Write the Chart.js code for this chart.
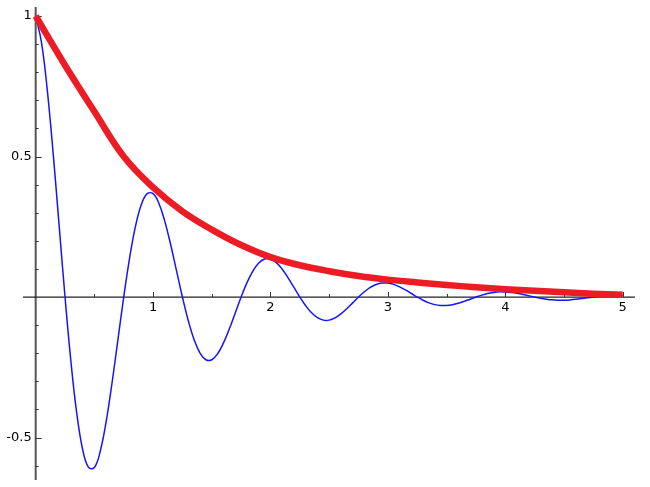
<!DOCTYPE html>
<html>
<head>
<meta charset="utf-8">
<script src="https://cdn.jsdelivr.net/npm/chart.js@4"></script>
<style>
  html, body { margin: 0; padding: 0; background: #fff; }
  #wrap { width: 650px; height: 487px; }
</style>
</head>
<body>
<div id="wrap"><canvas id="plot"></canvas></div>
<script>
(() => {
  "use strict";

  // sample positions along x for the oscillation
  const xs = [
    0, 0.05, 0.1, 0.15, 0.2, 0.25, 0.3, 0.35, 0.4, 0.45, 0.5, 0.55, 0.6, 0.65, 0.7, 0.75, 0.8, 0.85, 0.9, 0.95,
    1, 1.05, 1.1, 1.15, 1.2, 1.25, 1.3, 1.35, 1.4, 1.45, 1.5, 1.55, 1.6, 1.65, 1.7, 1.75, 1.8, 1.85, 1.9, 1.95,
    2, 2.05, 2.1, 2.15, 2.2, 2.25, 2.3, 2.35, 2.4, 2.45, 2.5, 2.55, 2.6, 2.65, 2.7, 2.75, 2.8, 2.85, 2.9, 2.95,
    3, 3.05, 3.1, 3.15, 3.2, 3.25, 3.3, 3.35, 3.4, 3.45, 3.5, 3.55, 3.6, 3.65, 3.7, 3.75, 3.8, 3.85, 3.9, 3.95,
    4, 4.05, 4.1, 4.15, 4.2, 4.25, 4.3, 4.35, 4.4, 4.45, 4.5, 4.55, 4.6, 4.65, 4.7, 4.75, 4.8, 4.85, 4.9, 4.95,
    5,
  ];

  // damped oscillation (blue)
  const wave = [
    1.0, 0.9047, 0.732, 0.5059, 0.253, 0, -0.2289, -0.4142, -0.5423, -0.6064,
    -0.6065, -0.5487, -0.444, -0.3068, -0.1535, 0, 0.1388, 0.2512, 0.3289, 0.3678,
    0.3679, 0.3328, 0.2693, 0.1861, 0.0931, 0, -0.0842, -0.1524, -0.1995, -0.2231,
    -0.2231, -0.2018, -0.1633, -0.1129, -0.0565, 0, 0.0511, 0.0924, 0.121, 0.1353,
    0.1353, 0.1224, 0.0991, 0.0685, 0.0342, 0, -0.031, -0.0561, -0.0734, -0.0821,
    -0.0821, -0.0743, -0.0601, -0.0416, -0.0208, 0, 0.0188, 0.034, 0.0445, 0.0497,
    0.0498, 0.0451, 0.0364, 0.0252, 0.0126, 0, -0.0114, -0.0206, -0.027, -0.0301,
    -0.0302, -0.0273, -0.0221, -0.0153, -0.0076, 0, 0.0069, 0.0125, 0.0163, 0.0184,
    0.0183, 0.0165, 0.0134, 0.0093, 0.0046, 0, -0.0042, -0.0076, -0.01, -0.0111,
    -0.0111, -0.0101, -0.0082, -0.0056, -0.0028, 0, 0.0025, 0.0046, 0.006, 0.0068,
    0.0067,
  ];

  // envelope (red)
  const envX = [
    0, 0.25, 0.5, 0.75, 1, 1.25, 1.5, 1.75, 2, 2.25, 2.5,
    2.75, 3, 3.25, 3.5, 3.75, 4, 4.25, 4.5, 4.75, 5,
  ];
  const envelope = [
    1.0, 0.825, 0.66, 0.5, 0.39, 0.305, 0.24, 0.185, 0.142, 0.113, 0.092,
    0.075, 0.062, 0.052, 0.043, 0.035, 0.028, 0.022, 0.017, 0.012, 0.008,
  ];

  const xMajor = [1, 2, 3, 4, 5];
  const xMinor = [0.5, 1.5, 2.5, 3.5, 4.5];
  const yMajor = [1, 0.5, -0.5];
  const yMinor = [0.9, 0.8, 0.7, 0.6, 0.4, 0.3, 0.2, 0.1, -0.1, -0.2, -0.3, -0.4, -0.6];
  const yLabels = [`1`, `0.5`, `-0.5`];

  const pts = (xv, yv) => xv.map((x, i) => ({ x: x, y: yv[i] }));

  // sage-style axes crossing at the origin, ticks pointing inwards
  const crossAxes = {
    id: `crossAxes`,
    beforeDatasetsDraw(chart) {
      const { ctx, scales } = chart;
      const sx = scales.x, sy = scales.y;
      const x0 = sx.getPixelForValue(0), y0 = sy.getPixelForValue(0);
      ctx.save();

      // y axis
      ctx.strokeStyle = `#555`;
      ctx.lineWidth = 2;
      ctx.beginPath();
      ctx.moveTo(x0, sy.top);
      ctx.lineTo(x0, sy.bottom);
      ctx.stroke();

      // x axis
      ctx.strokeStyle = `#222`;
      ctx.lineWidth = 1.2;
      ctx.beginPath();
      ctx.moveTo(sx.left, y0);
      ctx.lineTo(sx.right, y0);
      ctx.stroke();

      ctx.strokeStyle = `#333`;
      ctx.lineWidth = 1;
      ctx.beginPath();
      xMajor.forEach((v) => {
        const px = Math.round(sx.getPixelForValue(v)) + 0.5;
        ctx.moveTo(px, y0);
        ctx.lineTo(px, y0 - 5);
      });
      xMinor.forEach((v) => {
        const px = Math.round(sx.getPixelForValue(v)) + 0.5;
        ctx.moveTo(px, y0);
        ctx.lineTo(px, y0 - 3);
      });
      yMajor.forEach((v) => {
        const py = Math.round(sy.getPixelForValue(v)) + 0.5;
        ctx.moveTo(x0, py);
        ctx.lineTo(x0 + 6, py);
      });
      yMinor.forEach((v) => {
        const py = Math.round(sy.getPixelForValue(v)) + 0.5;
        ctx.moveTo(x0, py);
        ctx.lineTo(x0 + 3, py);
      });
      ctx.stroke();

      ctx.fillStyle = `#000`;
      ctx.font = `13px "DejaVu Sans"`;
      ctx.textAlign = `center`;
      ctx.textBaseline = `top`;
      xMajor.forEach((v) => {
        ctx.fillText(String(v), sx.getPixelForValue(v), y0 + 4);
      });
      ctx.textAlign = `right`;
      ctx.textBaseline = `middle`;
      yMajor.forEach((v, i) => {
        ctx.fillText(yLabels[i], x0 - 4, sy.getPixelForValue(v));
      });
      ctx.restore();
    },
  };

  const cfg = {
    type: `line`,
    data: {
      datasets: [
        {
          label: `envelope`,
          data: pts(envX, envelope),
          borderColor: `rgb(237,28,36)`,
          borderWidth: 6.5,
          pointRadius: 0,
          fill: false,
          tension: 0.4,
          order: 0,
        },
        {
          label: `wave`,
          data: pts(xs, wave),
          borderColor: `rgb(20,20,255)`,
          borderWidth: 1.5,
          pointRadius: 0,
          fill: false,
          tension: 0.4,
          order: 1,
        },
      ],
    },
    options: {
      responsive: true,
      maintainAspectRatio: false,
      animation: false,
      layout: { padding: { left: 23, right: 15, top: 7, bottom: 7 } },
      plugins: {
        legend: { display: false },
        tooltip: { enabled: false },
      },
      scales: {
        x: { type: `linear`, min: -0.108, max: 5.105, display: false },
        y: { type: `linear`, min: -0.651, max: 1.032, display: false },
      },
    },
    plugins: [crossAxes],
  };

  new Chart(document.getElementById(`plot`), cfg);
})();
</script>
</body>
</html>
